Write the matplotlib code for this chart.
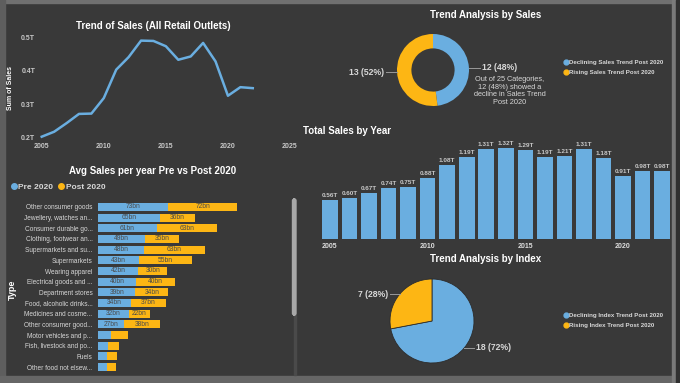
import numpy as np
import matplotlib
matplotlib.use("Agg")
import matplotlib.pyplot as plt
from matplotlib.patches import Rectangle, FancyBboxPatch
from matplotlib.lines import Line2D

# ---------------- data ----------------
line_years = [2005, 2006, 2007, 2008, 2009, 2010, 2011, 2012, 2013, 2014, 2015,
              2016, 2017, 2018, 2019, 2020, 2021, 2022]
line_sales = [0.201, 0.216, 0.242, 0.270, 0.271, 0.318, 0.404, 0.442, 0.492, 0.491,
              0.475, 0.434, 0.444, 0.485, 0.429, 0.325, 0.351, 0.348]

bar_years = line_years
bar_totals = [0.56, 0.60, 0.67, 0.74, 0.75, 0.88, 1.08, 1.19, 1.31, 1.32, 1.29,
              1.19, 1.21, 1.31, 1.18, 0.91, 0.98, 0.98]

donut_labels = ["Declining Sales Trend Post 2020", "Rising Sales Trend Post 2020"]
donut_counts = [12, 13]

pie_labels = ["Declining Index Trend Post 2020", "Rising Index Trend Post 2020"]
pie_counts = [18, 7]

categories = ["Other consumer goods", "Jewellery, watches an...", "Consumer durable go...",
              "Clothing, footwear an...", "Supermarkets and su...", "Supermarkets",
              "Wearing apparel", "Electrical goods and ...", "Department stores",
              "Food, alcoholic drinks...", "Medicines and cosme...", "Other consumer good...",
              "Motor vehicles and p...", "Fish, livestock and po...", "Fuels",
              "Other food not elsew..."]
pre_2020 = [73, 65, 61, 49, 48, 43, 42, 40, 39, 34, 32, 27, 14, 10, 9, 9]
post_2020 = [72, 36, 63, 35, 63, 55, 30, 40, 34, 37, 22, 38, 17, 12, 11, 10]

# ---------------- style ----------------
BLUE = "#6AAEE0"
GOLD = "#FDB614"
BG = "#393939"
TXT = "#d8d8d8"
plt.rcParams["font.family"] = ["Liberation Sans Narrow", "Liberation Sans", "DejaVu Sans"]
plt.rcParams["font.weight"] = "bold"
TITLE_FS = 7

W, H = 680, 383
fig = plt.figure(figsize=(W / 100, H / 100), dpi=100)
fig.patch.set_facecolor(BG)


def px(x0, y0, x1, y1):
    return [x0 / W, 1 - y1 / H, (x1 - x0) / W, (y1 - y0) / H]


def fx(x):
    return x / W


def fy(y):
    return 1 - y / H


# frame
for (x0, y0, x1, y1, c) in [(0, 0, 680, 3, "#707070"), (0, 0, 5, 383, "#5e5e5e"),
                            (0, 376, 680, 383, "#666666"), (672, 0, 676, 383, "#7a7a7a"),
                            (676, 0, 680, 383, "#303030")]:
    fig.patches.append(Rectangle((fx(x0), fy(y1)), (x1 - x0) / W, (y1 - y0) / H,
                                 transform=fig.transFigure, color=c, zorder=0))


def clean(ax):
    ax.set_facecolor("none")
    for s in ax.spines.values():
        s.set_visible(False)


# ---------------- line chart ----------------
ax1 = fig.add_axes(px(38, 35, 292, 140))
clean(ax1)
ax1.plot(line_years, line_sales, color=BLUE, lw=1.8)
ax1.set_xlim(2004.70, 2025.16)
ax1.set_ylim(0.191, 0.509)
ax1.set_xticks([2005, 2010, 2015, 2020, 2025])
ax1.set_yticks([0.2, 0.3, 0.4, 0.5])
ax1.set_yticklabels(["0.2T", "0.3T", "0.4T", "0.5T"])
ax1.tick_params(length=0, labelsize=5, colors="#c8c8c8", pad=2)
fig.text(fx(11), fy(88), "Sum of Sales", rotation=90, ha="center", va="center",
         fontsize=5, color="white", fontweight="bold")
fig.text(fx(153), fy(26), "Trend of Sales (All Retail Outlets)", ha="center", va="center",
         fontsize=TITLE_FS, color="white", fontweight="bold")

# ---------------- donut ----------------
cx, cy, r = 433, 70, 36
axd = fig.add_axes(px(cx - 40, cy - 40, cx + 40, cy + 40))
axd.set_facecolor("none")
wedges, _ = axd.pie(donut_counts, colors=[BLUE, GOLD], startangle=90, counterclock=False,
                    radius=1, wedgeprops=dict(width=0.4, edgecolor="none"))
axd.set_xlim(-40 / r, 40 / r)
axd.set_ylim(-40 / r, 40 / r)
axd.set_aspect("equal")
axd.axis("off")
fig.text(fx(486), fy(15), "Trend Analysis by Sales", ha="center", va="center",
         fontsize=TITLE_FS, color="white", fontweight="bold")
tot = sum(donut_counts)
for w, n in zip(wedges, donut_counts):
    ang = np.deg2rad((w.theta1 + w.theta2) / 2)
    sx, sy = np.cos(ang), np.sin(ang)
    side = 1 if sx > 0 else -1
    axd.plot([sx * 1.0, sx * 1.0 + side * 0.3], [sy, sy], color="#9a9a9a", lw=0.7, clip_on=False)
    axd.text(sx + side * 0.36, sy, f"{n} ({n / tot:.0%})", ha="left" if side > 0 else "right",
             va="center", fontsize=6.2, color=TXT, fontweight="bold")
fig.text(fx(510), fy(91), "Out of 25 Categories,\n12 (48%) showed a\ndecline in Sales Trend\nPost 2020",
         ha="center", va="center", fontsize=5.3, color=TXT, fontweight="normal", linespacing=1.1)

handles = [Line2D([], [], marker="o", ls="", color=BLUE, markersize=3.5),
           Line2D([], [], marker="o", ls="", color=GOLD, markersize=3.5)]
fig.legend(handles, donut_labels, loc="upper left", bbox_to_anchor=(fx(560), fy(57)),
           frameon=False, fontsize=4.4, labelcolor=TXT, handletextpad=0.1, handlelength=1,
           labelspacing=0.8, borderaxespad=0)

# ---------------- total sales by year ----------------
axb = fig.add_axes(px(318, 140, 672, 239))
clean(axb)
axb.bar(bar_years, bar_totals, width=0.8, color=BLUE)
axb.set_xlim(2004.386, 2022.51)
axb.set_ylim(0, 1.437)
axb.set_yticks([])
axb.set_xticks([2005, 2010, 2015, 2020])
axb.tick_params(length=0, labelsize=5, colors="#dddddd", pad=3)
for x, v in zip(bar_years, bar_totals):
    axb.text(x, v + 0.03, f"{v:.2f}T", ha="center", va="bottom", fontsize=4.6,
             color="#c8c8c8")
fig.text(fx(303), fy(131), "Total Sales by Year", ha="left", va="center",
         fontsize=TITLE_FS, color="white", fontweight="bold")

# ---------------- pie by index ----------------
cx, cy, r = 432, 321, 42
axp = fig.add_axes(px(cx - 46, cy - 46, cx + 46, cy + 46))
axp.set_facecolor("none")
wedges, _ = axp.pie(pie_counts, colors=[BLUE, GOLD], startangle=90, counterclock=False,
                    radius=1, wedgeprops=dict(edgecolor="#2c2c2c", linewidth=0.6))
axp.set_xlim(-46 / r, 46 / r)
axp.set_ylim(-46 / r, 46 / r)
axp.set_aspect("equal")
axp.axis("off")
tot = sum(pie_counts)
for w, n in zip(wedges, pie_counts):
    ang = np.deg2rad((w.theta1 + w.theta2) / 2)
    sx, sy = np.cos(ang), np.sin(ang)
    side = 1 if sx > 0 else -1
    axp.plot([sx, sx + side * 0.22], [sy, sy], color="#9a9a9a", lw=0.7, clip_on=False)
    axp.text(sx + side * 0.27, sy, f"{n} ({n / tot:.0%})", ha="left" if side > 0 else "right",
             va="center", fontsize=6.2, color=TXT, fontweight="bold")
fig.text(fx(486), fy(259), "Trend Analysis by Index", ha="center", va="center",
         fontsize=TITLE_FS, color="white", fontweight="bold")
fig.legend(handles, pie_labels, loc="upper left", bbox_to_anchor=(fx(560), fy(310)),
           frameon=False, fontsize=4.4, labelcolor=TXT, handletextpad=0.1, handlelength=1,
           labelspacing=0.8, borderaxespad=0)

# ---------------- avg sales pre vs post ----------------
axh = fig.add_axes(px(98, 201, 290, 373))
clean(axh)
ypos = np.arange(len(categories))
axh.barh(ypos, pre_2020, height=0.72, color=BLUE, label="Pre 2020")
axh.barh(ypos, post_2020, left=pre_2020, height=0.72, color=GOLD, label="Post 2020")
axh.set_xlim(0, 200)
axh.set_ylim(15.5625, -0.5625)
axh.set_xticks([])
axh.set_yticks(ypos)
axh.set_yticklabels(categories, fontweight="normal")
axh.tick_params(length=0, labelsize=4.7, colors="#d8d8d8", pad=4)
for y, a, b in zip(ypos, pre_2020, post_2020):
    if a >= 20:
        axh.text(a / 2, y, f"{a}bn", ha="center", va="center", fontsize=4.8,
                 color="#4a4a4a", fontweight="normal")
    if b >= 20:
        axh.text(a + b / 2, y, f"{b}bn", ha="center", va="center", fontsize=4.8,
                 color="#4a4a4a", fontweight="normal")
fig.text(fx(12), fy(290), "Type", rotation=90, ha="center", va="center",
         fontsize=6.5, color="white", fontweight="bold")
fig.text(fx(153), fy(171), "Avg Sales per year Pre vs Post 2020", ha="center", va="center",
         fontsize=TITLE_FS, color="white", fontweight="bold")
h2 = [Line2D([], [], marker="o", ls="", color=BLUE, markersize=4),
      Line2D([], [], marker="o", ls="", color=GOLD, markersize=4)]
fig.legend(h2, ["Pre 2020", "Post 2020"], loc="upper left", bbox_to_anchor=(fx(6), fy(180)),
           ncol=2, frameon=False, fontsize=6, labelcolor=TXT, handletextpad=0.05,
           handlelength=1, columnspacing=0.5, borderaxespad=0)

# scrollbar
fig.patches.append(Rectangle((fx(293.5), fy(375)), 2 / W, (375 - 315) / H,
                             transform=fig.transFigure, color="#4a4a4a", zorder=1))
fig.patches.append(FancyBboxPatch((fx(292.5), fy(315)), 3.5 / W, (315 - 199) / H,
                                  boxstyle="round,pad=0,rounding_size=0.004",
                                  transform=fig.transFigure, color="#a8a8a8", zorder=1))

fig.savefig("out.png", dpi=100, facecolor=fig.get_facecolor())
